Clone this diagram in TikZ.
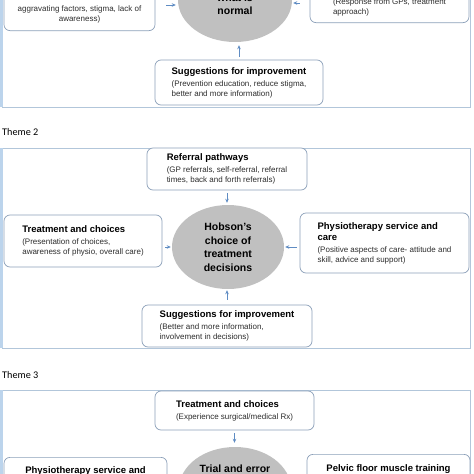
\documentclass[tikz,border=0pt]{standalone}
\usepackage{fontspec}
\setmainfont{Liberation Sans}
\newfontfamily\themefont{Carlito}
\usetikzlibrary{shapes.geometric, arrows.meta}
\definecolor{boxline}{RGB}{140,160,185}
\definecolor{panelline}{RGB}{178,198,218}
\definecolor{panelside}{RGB}{188,212,236}
\definecolor{ovalgrey}{RGB}{192,192,192}
\definecolor{linkblue}{RGB}{95,140,195}
\definecolor{bodytext}{RGB}{45,45,45}
\newcommand{\hd}[1]{{\fontsize{9.5}{11}\selectfont\bfseries\color{black}#1}}

\begin{document}
\begin{tikzpicture}[x=1pt, y=-1pt,
  box/.style={draw=boxline, line width=0.7pt, rounded corners=6pt, fill=white, align=left, inner sep=0pt, text=bodytext, font=\fontsize{8}{10}\selectfont},
  oval/.style={ellipse, fill=ovalgrey, inner sep=0pt, align=center, font=\fontsize{10.5}{13.5}\selectfont\bfseries},
  link/.style={-{Stealth[length=4pt, width=3.5pt]}, linkblue, line width=0.8pt},
  panel/.style={draw=panelline, line width=0.8pt},
  panelstrip/.style={panelside, line width=3pt},
  themelabel/.style={anchor=west, inner sep=0pt, font=\themefont\fontsize{10.2}{12}\selectfont}]
  \useasboundingbox (0,0) rectangle (474,474);

  % theme 1 (cut at the top)
  \draw[panel] (2,-10) rectangle (470,107);
  \draw[panelstrip] (1.5,-10) -- (1.5,107);
  \node[box, anchor=south, align=center, minimum width=151, inner ysep=7] (aggr) at (79.5,31)
    {\mbox{}\\\mbox{}\\aggravating factors, stigma, lack of\\awareness)};
  \node[box, anchor=south, minimum width=159, inner ysep=6.5] (gp) at (389.5,23)
    {\mbox{}\\(Response from GPs, treatment\\approach)};
  \node[oval, minimum width=114, minimum height=84] (norm) at (235,0) {\mbox{}\\[3pt]what is\\normal};
  \node[box, minimum width=168, minimum height=45] (sug1) at (239,82.5)
    {\hd{Suggestions for improvement}\\[2pt](Prevention education, reduce stigma,\\better and more information)};
  \coordinate (row1) at (0,5);
  \coordinate (row1b) at (0,3);
  \draw[link, shorten <=11pt, shorten >=2pt] (aggr.east |- row1) -- (norm.west |- row1);
  \draw[link, shorten <=10pt, shorten >=1pt] (gp.west |- row1b) -- (norm.east |- row1b);
  \draw[link, shorten <=3pt, shorten >=3pt] (sug1.north) -- (sug1.north |- norm.south);

  % theme 2
  \node[themelabel] (th2) at (2,132) {Theme 2};
  \draw[panel] (2,148) rectangle (470,348);
  \draw[panelstrip] (1.5,148) -- (1.5,348);
  \node[box, minimum width=160, minimum height=42] (refp) at (227,169)
    {\hd{Referral pathways}\\[2pt](GP referrals, self-referral, referral\\times, back and forth referrals)};
  \node[oval, minimum width=112, minimum height=84] (hob) at (228,247)
    {Hobson's\\choice of\\treatment\\decisions};
  \node[box, minimum width=158, minimum height=52] (treat2) at (83,241)
    {\hd{Treatment and choices}\\[2pt](Presentation of choices,\\awareness of physio, overall care)};
  \node[box, minimum width=169, minimum height=60] (physio2) at (384.5,243)
    {\hd{Physiotherapy service and}\\[1pt]\hd{care}\\[2pt](Positive aspects of care- attitude and\\skill, advice and support)};
  \node[box, minimum width=170, minimum height=42] (sug2) at (227,326)
    {\hd{Suggestions for improvement}\\[2pt](Better and more information,\\involvement in decisions)};
  \draw[link, shorten <=3pt, shorten >=2pt] (refp.south) -- (refp.south |- hob.north);
  \draw[link, shorten <=3pt, shorten >=1pt] (treat2.east |- hob) -- (hob.west);
  \draw[link, shorten <=3pt, shorten >=1pt] (physio2.west |- hob) -- (hob.east);
  \draw[link, shorten <=5pt, shorten >=1pt] (sug2.north) -- (sug2.north |- hob.south);

  % theme 3 (cut at the bottom)
  \node[themelabel] (th3) at (2,375) {Theme 3};
  \draw[panel] (2,390) rectangle (470,490);
  \draw[panelstrip] (1.5,390) -- (1.5,490);
  \node[box, minimum width=159, minimum height=39] (treat3) at (234.5,410.5)
    {\hd{Treatment and choices}\\[2pt](Experience surgical/medical Rx)};
  \node[oval, minimum width=112, minimum height=84] (trial) at (235,489)
    {Trial and error\\\mbox{}\\\mbox{}\\\mbox{}};
  \node[box, anchor=north, align=center, minimum width=163, inner ysep=9] (physio3) at (85.5,457)
    {\hd{Physiotherapy service and}\\\mbox{}\\\mbox{}};
  \node[box, anchor=north, align=center, minimum width=163, inner ysep=10.5] (pelvic) at (388.5,454)
    {\hd{Pelvic floor muscle training}\\\mbox{}\\\mbox{}};
  \draw[link, shorten <=3pt, shorten >=4pt] (treat3.south) -- (treat3.south |- trial.north);
\end{tikzpicture}
\end{document}
